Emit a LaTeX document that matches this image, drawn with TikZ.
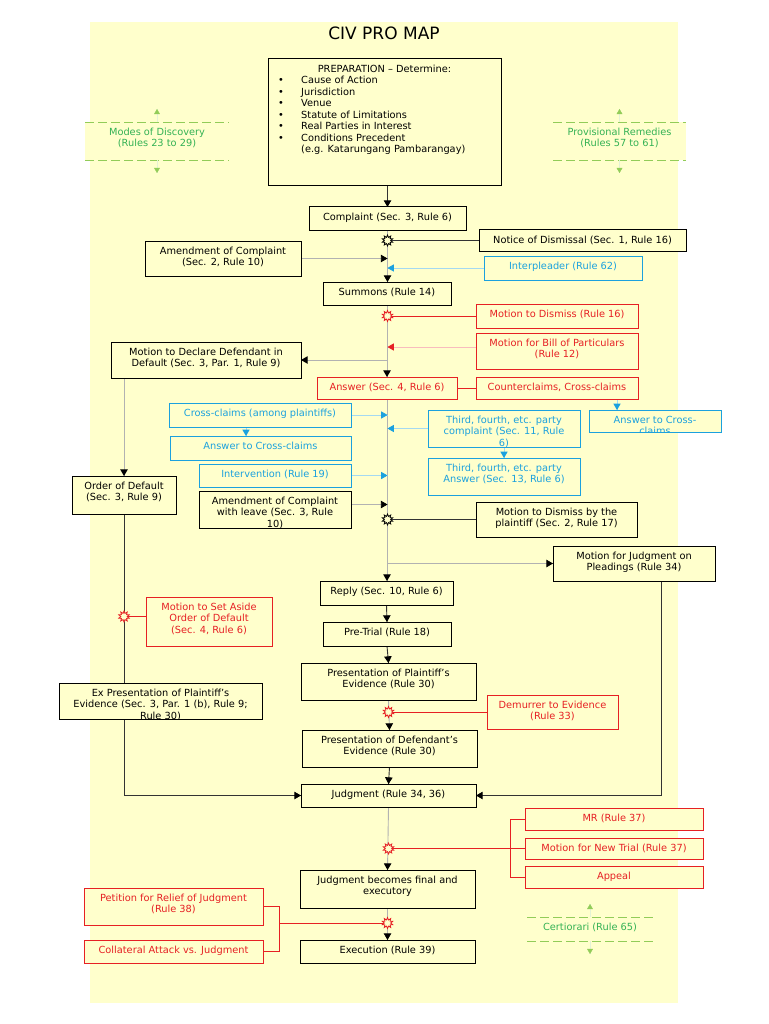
\documentclass[tikz,border=0pt]{standalone}
\usepackage{fontspec}
\setmainfont{DejaVu Sans}
\usepackage{tikz}
\usetikzlibrary{arrows}
\usetikzlibrary{decorations.markings}
\usetikzlibrary{shapes.geometric}
\usetikzlibrary{positioning}
\definecolor{myellow}{RGB}{255,255,204}
\definecolor{mred}{RGB}{230,32,36}
\definecolor{mcyan}{RGB}{27,161,222}
\definecolor{mgreen}{RGB}{52,178,84}
\definecolor{mlime}{RGB}{146,204,88}
\pgfdeclarelayer{back}
\pgfdeclarelayer{lines}
\pgfsetlayers{back,lines,main}
\tikzset{arr/.style = {decoration={markings,
                                  mark=at position 1 with {\arrow[scale=0.95,#1]{triangle 60}}},
                      postaction={decorate}},
         arr/.default = black,
         pbox/.style = {draw, fill=myellow, line width=1pt, inner sep=0pt, outer sep=0pt},
         ptext/.style = {font=\fontsize{9.8}{11.5}\selectfont, inner sep=0pt, align=center},
         burst/.style = {star, star points=10, star point ratio=1.7, draw=#1, fill=myellow,
                         minimum size=11pt, inner sep=0pt, line width=0.8pt},
         gline/.style = {draw=black!30, line width=0.9pt},
         dline/.style = {draw=black!80, line width=0.9pt},
         rline/.style = {draw=mred, line width=0.9pt},
         cline/.style = {draw=mcyan!40, line width=0.8pt},
         gdash/.style = {draw=mlime, line width=0.9pt, dash pattern=on 9pt off 4pt}}
% box with its text set from the top: [extra]{colour}{name}{x1}{y1}{x2}{y2}{text}
\newcommand{\stepbox}[8][]{%
  \node[pbox, draw=#2, #1, anchor=north west,
        minimum width=#6pt-#4pt, minimum height=#7pt-#5pt] (#3) at (#4,#5) {};
  \begin{scope}
    \clip (#3.north west) rectangle (#3.south east);
    \node[ptext, text=#2, anchor=north] at ([yshift=-5pt]#3.north) {\strut #8};
  \end{scope}}

\begin{document}
\begin{tikzpicture}[x=1pt, y=-1pt]
  \useasboundingbox (0,0) rectangle (768,1024);
  \begin{pgfonlayer}{back}
    \fill[myellow] (90,22) rectangle (678,1003);
  \end{pgfonlayer}
  \node[font=\fontsize{17}{20}\selectfont] (title) at (384,33) {CIV PRO MAP};

  % preparation
  \stepbox{black}{prep}{268}{59}{501}{186}{PREPARATION – Determine:}
  \node[ptext, align=left, anchor=north west] (list) at ([xshift=10pt, yshift=-16.5pt]prep.north west)
    {\strut\makebox[23pt][l]{•}Cause of Action\\
     \makebox[23pt][l]{•}Jurisdiction\\
     \makebox[23pt][l]{•}Venue\\
     \makebox[23pt][l]{•}Statute of Limitations\\
     \makebox[23pt][l]{•}Real Parties in Interest\\
     \makebox[23pt][l]{•}Conditions Precedent\\
     \hspace*{23pt}(e.g. Katarungang Pambarangay)};

  % side remedies
  \stepbox[draw=none]{mgreen}{mdv}{85}{122}{229}{160}{Modes of Discovery\\(Rules 23 to 29)}
  \stepbox[draw=none]{mgreen}{prv}{553}{122}{686}{160}{Provisional Remedies\\(Rules 57 to 61)}
  \stepbox[draw=none]{mgreen}{crt}{527}{917}{653}{941}{Certiorari (Rule 65)}
  \draw[gdash] (mdv.north west) -- (mdv.north east);
  \draw[gdash] (mdv.south west) -- (mdv.south east);
  \draw[gdash] (prv.north west) -- (prv.north east);
  \draw[gdash] (prv.south west) -- (prv.south east);
  \draw[gdash] (crt.north west) -- (crt.north east);
  \draw[gdash] (crt.south west) -- (crt.south east);
  \draw[draw=mlime!25, arr=mlime] (mdv.north) -- ++(0,-13);
  \draw[draw=mlime!25, arr=mlime] (mdv.south) -- ++(0,13);
  \draw[draw=mlime!25, arr=mlime] (prv.north) -- ++(0,-13);
  \draw[draw=mlime!25, arr=mlime] (prv.south) -- ++(0,13);
  \draw[draw=mlime!25, arr=mlime] (crt.north) -- ++(0,-13);
  \draw[draw=mlime!25, arr=mlime] (crt.south) -- ++(0,13);

  % pleadings
  \stepbox{black}{cmp}{309}{207}{466}{231}{Complaint (Sec. 3, Rule 6)}
  \stepbox{black}{nod}{479}{230}{686}{251}{Notice of Dismissal (Sec. 1, Rule 16)}
  \stepbox{black}{amd}{145}{241}{301}{276}{Amendment of Complaint\\(Sec. 2, Rule 10)}
  \stepbox{mcyan}{ipl}{484}{256}{642}{280}{Interpleader (Rule 62)}
  \stepbox{black}{sum}{323}{282}{451}{305}{Summons (Rule 14)}
  \stepbox{mred}{mtd}{476}{304}{638}{328}{Motion to Dismiss (Rule 16)}
  \stepbox{mred}{mbp}{476}{333}{638}{369}{Motion for Bill of Particulars\\(Rule 12)}
  \stepbox{black}{mdd}{111}{342}{301}{378}{Motion to Declare Defendant in\\Default (Sec. 3, Par. 1, Rule 9)}
  \stepbox{mred}{ans}{317}{377}{457}{399}{Answer (Sec. 4, Rule 6)}
  \stepbox{mred}{cnt}{476}{377}{638}{399}{Counterclaims, Cross-claims}
  \stepbox{mcyan}{ccp}{169}{403}{351}{427}{Cross-claims (among plaintiffs)}
  \stepbox{mcyan}{acr}{589}{410}{721}{432}{Answer to Cross-\\claims}
  \stepbox{mcyan}{tpc}{428}{410}{580}{447}{Third, fourth, etc. party\\complaint (Sec. 11, Rule\\6)}
  \stepbox{mcyan}{acl}{170}{436}{351}{460}{Answer to Cross-claims}
  \stepbox{mcyan}{tpa}{428}{458}{580}{495}{Third, fourth, etc. party\\Answer (Sec. 13, Rule 6)}
  \stepbox{mcyan}{itv}{199}{464}{351}{487}{Intervention (Rule 19)}
  \stepbox{black}{odf}{72}{476}{176}{514}{Order of Default\\(Sec. 3, Rule 9)}
  \stepbox{black}{awl}{199}{491}{351}{528}{Amendment of Complaint\\with leave (Sec. 3, Rule\\10)}
  \stepbox{black}{mdp}{476}{502}{637}{537}{Motion to Dismiss by the\\plaintiff (Sec. 2, Rule 17)}
  \stepbox{black}{mjp}{553}{546}{715}{581}{Motion for Judgment on\\Pleadings (Rule 34)}

  % trial
  \stepbox{black}{rep}{320}{581}{453}{605}{Reply (Sec. 10, Rule 6)}
  \stepbox{mred}{msa}{146}{597}{272}{646}{Motion to Set Aside\\Order of Default\\(Sec. 4, Rule 6)}
  \stepbox{black}{ptr}{323}{622}{451}{646}{Pre-Trial (Rule 18)}
  \stepbox{black}{ppe}{301}{663}{476}{700}{Presentation of Plaintiff's\\Evidence (Rule 30)}
  \stepbox{black}{exp}{59}{683}{262}{719}{Ex Presentation of Plaintiff's\\Evidence (Sec. 3, Par. 1 (b), Rule 9;\\Rule 30)}
  \stepbox{mred}{dem}{487}{695}{618}{729}{Demurrer to Evidence\\(Rule 33)}
  \stepbox{black}{pde}{302}{730}{477}{767}{Presentation of Defendant's\\Evidence (Rule 30)}
  \stepbox{black}{jdg}{301}{784}{476}{807}{Judgment (Rule 34, 36)}

  % after judgment
  \stepbox{mred}{mr}{525}{808}{703}{830}{MR (Rule 37)}
  \stepbox{mred}{mnt}{525}{838}{703}{859}{Motion for New Trial (Rule 37)}
  \stepbox{mred}{apl}{525}{866}{703}{888}{Appeal}
  \stepbox{black}{jfe}{300}{870}{475}{908}{Judgment becomes final and\\executory}
  \stepbox{mred}{prj}{84}{888}{263}{925}{Petition for Relief of Judgment\\(Rule 38)}
  \stepbox{mred}{cav}{84}{940}{263}{963}{Collateral Attack vs. Judgment}
  \stepbox{black}{exe}{300}{940}{475}{963}{Execution (Rule 39)}

  % bursts
  \node[burst=black] (b1) at (cmp.south |- nod.west) {};
  \node[burst=mred] (b2) at (cmp.south |- mtd.west) {};
  \node[burst=black] (b3) at (cmp.south |- mdp.west) {};
  \node[burst=mred] (b4) at ([yshift=5pt]odf.south |- msa.west) {};
  \node[burst=mred] (b5) at (ppe.south |- dem.west) {};
  \node[burst=mred] (b6) at (jdg.south |- mnt.west) {};
  \node[burst=mred] (b7) at ([yshift=-15pt]jfe.south) {};

  \begin{pgfonlayer}{lines}
    \draw[dline, arr] (cmp.north |- prep.south) -- (cmp.north);
    \draw[gline, arr] (cmp.south) -- (cmp.south |- sum.north);
    \draw[dline] (b1) -- (b1 -| nod.west);
    \draw[gline, arr] (amd.east) -- (amd.east -| cmp.south);
    \draw[cline, arr=mcyan] (ipl.west) -- (ipl.west -| cmp.south);
    \draw[gline, arr] (sum.south) -- (sum.south |- ans.north);
    \draw[rline] (b2) -- (b2 -| mtd.west);
    \coordinate (k1) at ([yshift=4pt]mbp.west);
    \draw[draw=mred!30, line width=0.8pt, arr=mred] (k1) -- (k1 -| cmp.south);
    \draw[gline, arr] (mdd.east -| cmp.south) -- (mdd.east);
    \draw[rline] (ans.east) -- (cnt.west);
    \coordinate (k2) at ([xshift=-38pt]acr.north);
    \draw[cline, arr=mcyan] (k2 |- cnt.south) -- (k2);
    \draw[gline, arr] (ans.south) -- (ans.south |- rep.north);
    \draw[cline, arr=mcyan] (ccp.east) -- (ccp.east -| cmp.south);
    \coordinate (k3) at ([xshift=-14pt]ccp.south);
    \draw[cline, arr=mcyan] (k3) -- (k3 |- acl.north);
    \draw[cline, arr=mcyan] (tpc.west) -- (tpc.west -| cmp.south);
    \draw[cline, arr=mcyan] (tpc.south) -- (tpa.north);
    \draw[cline, arr=mcyan] (itv.east) -- (itv.east -| cmp.south);
    \coordinate (k4) at ([yshift=5pt]awl.east);
    \draw[gline, arr] (k4) -- (k4 -| cmp.south);
    \draw[dline] (b3) -- (b3 -| mdp.west);
    \draw[gline, arr] (mjp.west -| cmp.south) -- (mjp.west);
    \draw[gline, arr] (odf.north |- mdd.south) -- (odf.north);
    \draw[dline, arr] (odf.south) |- (jdg.west);
    \draw[rline] (b4) -- (b4 -| msa.west);
    \coordinate (k5) at ([xshift=27pt]mjp.south);
    \draw[dline, arr] (k5) |- (jdg.east);
    \draw[dline, arr] (rep.south) -- (ptr.north);
    \draw[dline, arr] (ptr.south) -- (ppe.north);
    \draw[gline, arr] (ppe.south) -- (pde.north);
    \draw[rline] (b5) -- (b5 -| dem.west);
    \draw[dline, arr] (pde.south) -- (jdg.north);
    \draw[gline, arr] (jdg.south) -- (jfe.north);
    \draw[rline] (b6) -- (mnt.west);
    \draw[rline] (mr.west) -- ++(-15,0) |- (apl.west);
    \draw[gline, arr] (jfe.south) -- (exe.north);
    \draw[rline] (prj.east) -- ++(16,0) |- (cav.east);
    \coordinate (k6) at ([xshift=16pt]prj.east);
    \draw[rline] (b7) -- (b7 -| k6);
  \end{pgfonlayer}
\end{tikzpicture}
\end{document}
